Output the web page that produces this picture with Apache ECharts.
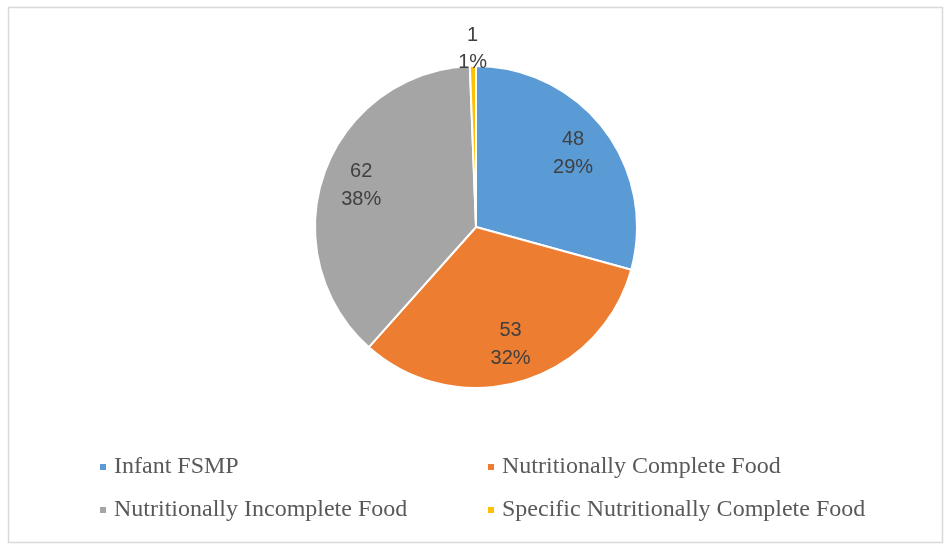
<!DOCTYPE html>
<html>
<head>
<meta charset="utf-8">
<script src="https://cdn.jsdelivr.net/npm/echarts@6/dist/echarts.min.js"></script>
<style>
html,body{margin:0;padding:0;background:#fff;}
#c{width:949px;height:550px;}
</style>
</head>
<body>
<div id="c"></div>
<script>
const categories = ["Infant FSMP", "Nutritionally Complete Food", "Nutritionally Incomplete Food", "Specific Nutritionally Complete Food"];
const values = [48, 53, 62, 1];
const colors = ["#5B9BD5", "#ED7D31", "#A5A5A5", "#FFC000"];

const total = values.reduce((a, b) => a + b, 0);
const pctText = v => Math.round(v / total * 100) + "%";

const chart = echarts.init(document.getElementById('c'));
const labelStyle = {
  color: "#404040",
  fontFamily: "Liberation Sans, Arial, sans-serif",
  fontSize: 20,
  lineHeight: 28,
  formatter: p => p.value + "\n" + pctText(p.value)
};
const baseData = categories.map((n, i) => ({ name: n, value: values[i], itemStyle: { color: colors[i] } }));
const transparentData = (showIdx) => categories.map((n, i) => ({
  name: n, value: values[i],
  itemStyle: { color: "rgba(0,0,0,0)", borderWidth: 0 },
  label: { show: showIdx(i) }
}));

const legendCommon = {
  orient: 'vertical',
  icon: 'rect',
  itemWidth: 8,
  itemHeight: 8,
  itemGap: 19,
  padding: 0,
  top: 455,
  selectedMode: false,
  textStyle: { fontFamily: "Liberation Serif, Times New Roman, serif", fontSize: 24, color: "#595959", lineHeight: 24, padding: [0, 0, 0, 2] }
};

chart.setOption({
  animation: false,
  graphic: [{
    type: 'rect', silent: true,
    shape: { x: 8.5, y: 7.5, width: 934, height: 535 },
    style: { fill: 'none', stroke: '#d9d9d9', lineWidth: 1.5 }
  }],
  legend: [
    Object.assign({}, legendCommon, { left: 98, data: [categories[0], categories[2]].map(n => ({ name: n, itemStyle: { color: colors[categories.indexOf(n)] } })) }),
    Object.assign({}, legendCommon, { left: 486, data: [categories[1], categories[3]].map(n => ({ name: n, itemStyle: { color: colors[categories.indexOf(n)] } })) })
  ],
  series: [
    {
      type: 'pie', center: [476, 227], radius: [0, 161],
      startAngle: 90, clockwise: true,
      itemStyle: { borderColor: '#fff', borderWidth: 2 },
      label: { show: false }, labelLine: { show: false },
      emphasis: { disabled: true },
      data: baseData
    },
    {
      type: 'pie', center: [476, 227], radius: [0, 238], silent: true,
      startAngle: 90, clockwise: true,
      label: Object.assign({ position: 'inside' }, labelStyle), labelLine: { show: false },
      emphasis: { disabled: true },
      data: transparentData(i => values[i] / total > 0.05)
    },
    {
      type: 'pie', center: [476, 227], radius: [0, 350], silent: true,
      startAngle: 90, clockwise: true,
      label: Object.assign({ position: 'inside' }, labelStyle, { lineHeight: 27 }), labelLine: { show: false },
      emphasis: { disabled: true },
      data: transparentData(i => values[i] / total <= 0.05)
    }
  ]
});
</script>
</body>
</html>
